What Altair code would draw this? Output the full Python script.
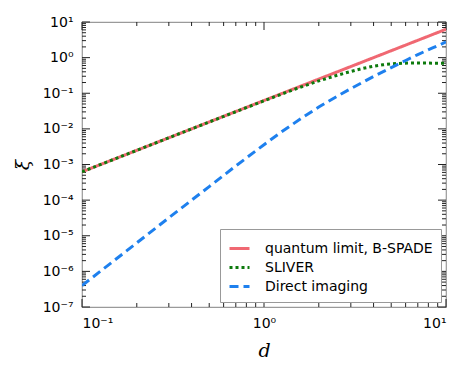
import altair as alt
import pandas as pd

# ---- data ----
series_names = ["quantum limit, B-SPADE", "SLIVER", "Direct imaging"]

d_quantum = [0.1, 10.0]
xi_quantum = [6.25e-4, 6.25]

d_sliver = [0.1, 0.5, 1.0, 1.5, 2.0, 2.5, 3.0, 3.5, 4.0, 4.5, 5.0, 5.8, 7.0, 8.5, 10.0]
xi_sliver = [6.25e-4, 0.0156, 0.0615, 0.134, 0.222, 0.315, 0.41, 0.50, 0.575, 0.63, 0.665, 0.70, 0.705, 0.70, 0.70]

d_direct = [0.1, 0.2, 0.3, 0.5, 0.7, 1.0, 1.25, 1.6, 2.0, 2.5, 3.0, 4.0, 5.0, 6.0, 7.0, 8.5, 10.0]
xi_direct = [4.0e-7, 6.3e-6, 3.2e-5, 2.4e-4, 9.1e-4, 3.6e-3, 8.3e-3, 0.0196, 0.041, 0.080,
             0.135, 0.295, 0.525, 0.83, 1.22, 1.9, 2.75]

x_major = [0.1, 1.0, 10.0]
x_minor = [0.2, 0.3, 0.4, 0.5, 0.6, 0.7, 0.8, 0.9, 2, 3, 4, 5, 6, 7, 8, 9]
y_major = [1e-7, 1e-6, 1e-5, 1e-4, 1e-3, 1e-2, 1e-1, 1e0, 1e1]
y_minor = [k * 10.0 ** e for e in range(-7, 1) for k in range(2, 10)]

colors = ["#f06872", "#0d7a0d", "#1e80ee"]
dashes = [[1, 0], [3, 3], [9, 5]]

W, H = 364, 285
MAJ, MIN = 8, 4

rows = []
for name, ds, xs in zip(series_names, [d_quantum, d_sliver, d_direct], [xi_quantum, xi_sliver, xi_direct]):
    for a, b in zip(ds, xs):
        rows.append({"d": a, "xi": b, "series": name})
df = pd.DataFrame(rows)

xscale = alt.Scale(type="log", domain=[0.1, 10], nice=False)
yscale = alt.Scale(type="log", domain=[1e-7, 10], nice=False)

sup = "['⁰','¹','²','³','⁴','⁵','⁶','⁷','⁸','⁹']"
lab = ("'10' + (round(log(datum.value)/LN10) < 0 ? '⁻' : '') + " + sup +
       "[abs(round(log(datum.value)/LN10))]")

xaxis = alt.Axis(values=x_major, labelExpr=lab, ticks=False, domain=False, grid=False,
                 labelFontSize=14, labelPadding=9, labelFont="DejaVu Sans", labelColor="#000",
                 title="d", titleFont="DejaVu Serif", titleFontStyle="italic", titleFontWeight="normal",
                 titleFontSize=19, titleY=49, titleBaseline="alphabetic", titleColor="#000")
yaxis = alt.Axis(values=y_major, labelExpr=lab, ticks=False, domain=False, grid=False,
                 labelFontSize=14, labelPadding=9, labelFont="DejaVu Sans", labelColor="#000",
                 title="ξ", titleFont="DejaVu Serif", titleFontStyle="italic", titleFontWeight="normal",
                 titleFontSize=19, titleX=-50, titleY=H / 2, titleColor="#000")

X = alt.X("d:Q", scale=xscale, axis=xaxis)
Y = alt.Y("xi:Q", scale=yscale, axis=yaxis)

legend = alt.Legend(title=None, orient="bottom-right", offset=5, padding=8,
                    strokeColor="#999999", fillColor="white", cornerRadius=0,
                    symbolType="stroke", symbolSize=400, symbolStrokeWidth=3,
                    labelFontSize=14, labelFont="DejaVu Sans", labelOffset=14, labelLimit=400,
                    rowPadding=0, labelColor="#000")

color = alt.Color("series:N", scale=alt.Scale(domain=series_names, range=colors), legend=legend)
dash = alt.StrokeDash("series:N", scale=alt.Scale(domain=series_names, range=dashes), legend=legend)

base = alt.Chart(df)
lines = [
    base.transform_filter(alt.datum.series == name)
        .mark_line(strokeWidth=3, clip=True)
        .encode(x=X, y=Y, color=color, strokeDash=dash)
    for name in series_names
]

# inward ticks on all four sides
ydf_maj = pd.DataFrame({"xi": y_major})
ydf_min = pd.DataFrame({"xi": y_minor})
xdf_maj = pd.DataFrame({"d": x_major})
xdf_min = pd.DataFrame({"d": x_minor})

tick_layers = []
for dfr, L in [(ydf_maj, MAJ), (ydf_min, MIN)]:
    tick_layers.append(alt.Chart(dfr).mark_rule(color="#222", strokeWidth=1)
                       .encode(y=Y, x=alt.value(0), x2=alt.value(L)))
    tick_layers.append(alt.Chart(dfr).mark_rule(color="#222", strokeWidth=1)
                       .encode(y=Y, x=alt.value(W - L), x2=alt.value(W)))
for dfr, L in [(xdf_maj, MAJ), (xdf_min, MIN)]:
    tick_layers.append(alt.Chart(dfr).mark_rule(color="#222", strokeWidth=1)
                       .encode(x=X, y=alt.value(H - L), y2=alt.value(H)))
    tick_layers.append(alt.Chart(dfr).mark_rule(color="#222", strokeWidth=1)
                       .encode(x=X, y=alt.value(0), y2=alt.value(L)))

chart = alt.layer(*tick_layers, *lines).properties(
    width=W, height=H,
    autosize=alt.AutoSizeParams(type="none"),
    padding={"left": 74, "top": 14, "right": 20, "bottom": 59},
    background="white",
).configure_view(stroke="#9a9a9a", strokeWidth=1.2)

chart.save("out.html", embed_options={"renderer": "svg", "actions": False})
